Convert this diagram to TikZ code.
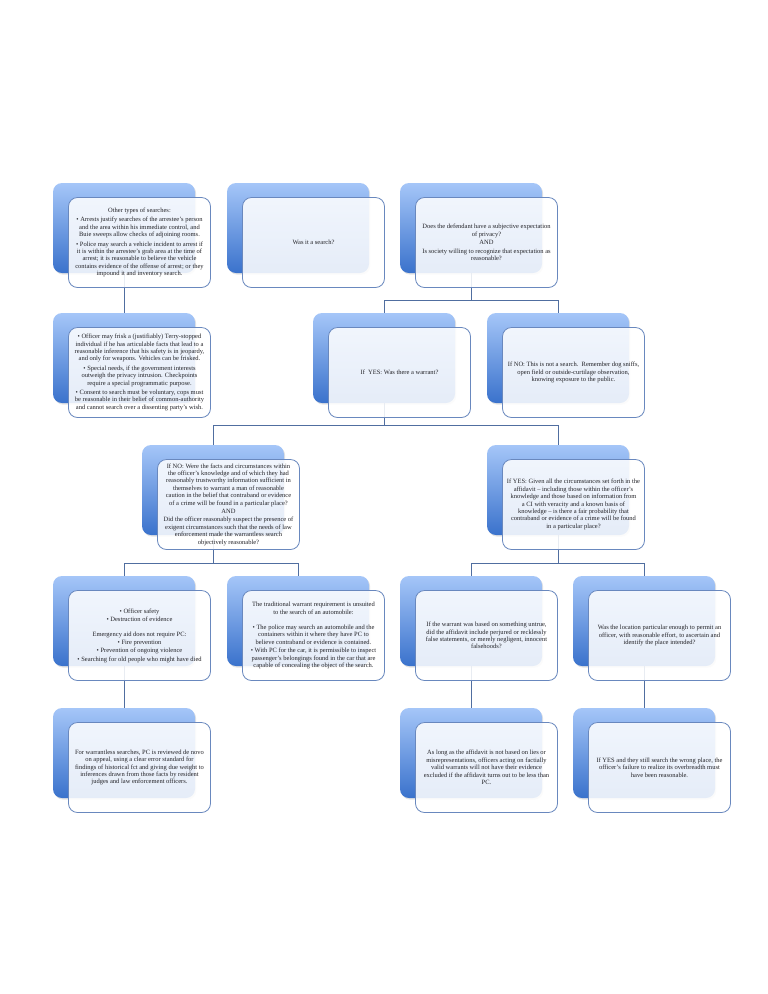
\documentclass[tikz,border=0pt]{standalone}
\usepackage{fontspec}
\setmainfont{Liberation Serif}
\usetikzlibrary{shadows}
\definecolor{boxtop}{RGB}{165,198,248}
\definecolor{boxbot}{RGB}{58,114,204}
\definecolor{frameblue}{RGB}{105,136,190}
\definecolor{linkblue}{RGB}{80,110,160}
\definecolor{txt}{RGB}{35,35,40}
\tikzset{
 backcard/.style={rectangle, rounded corners=9pt, minimum width=142pt, minimum height=90pt, inner sep=0pt,
   top color=boxtop, bottom color=boxbot, draw=none,
   drop shadow={opacity=0.22,shadow xshift=1.2pt,shadow yshift=-1.6pt}},
 frontcard/.style={rectangle, rounded corners=9pt, minimum width=142pt, minimum height=90pt, inner sep=2pt,
   fill=white, fill opacity=0.87, text opacity=1, draw=frameblue, draw opacity=1, line width=0.8pt,
   align=center, text=txt, font=\fontsize{6.5}{7.4}\selectfont},
 link/.style={draw=linkblue, line width=0.8pt},
}
\newcommand\backcardat[3]{\node[backcard] (#1) at ({#2+71},{#3+45}) {};}
\newcommand\frontcardat[4]{\node[frontcard] (#1) at ({#2+86.5},{#3+59.5}) {#4};}
\begin{document}
\begin{tikzpicture}[x=1pt,y=-1pt]
\fill[white] (0,0) rectangle (768,994);
\useasboundingbox (0,0) rectangle (768,994);
% back cards
\backcardat{a1}{53}{183}
\backcardat{b1}{227}{183}
\backcardat{c1}{400}{183}
\backcardat{a2}{53}{313}
\backcardat{yes2}{313}{313}
\backcardat{no2}{487}{313}
\backcardat{no3}{142}{445}
\backcardat{yes3}{487}{445}
\backcardat{a4}{53}{576}
\backcardat{b4}{227}{576}
\backcardat{c4}{400}{576}
\backcardat{d4}{573}{576}
\backcardat{a5}{53}{708}
\backcardat{c5}{400}{708}
\backcardat{d5}{573}{708}
% connectors
\draw[link] (a1.south) -- (a2.north);
\draw[link] (c1.south) -- ++(0,27) -| (yes2.north);
\draw[link] (c1.south) -- ++(0,27) -| (no2.north);
\draw[link] (yes2.south) -- ++(0,22) -| (no3.north);
\draw[link] (yes2.south) -- ++(0,22) -| (yes3.north);
\draw[link] (no3.south) -- ++(0,28) -| (a4.north);
\draw[link] (no3.south) -- ++(0,28) -| (b4.north);
\draw[link] (yes3.south) -- ++(0,28) -| (c4.north);
\draw[link] (yes3.south) -- ++(0,28) -| (d4.north);
\draw[link] (a4.south) -- (a5.north);
\draw[link] (c4.south) -- (c5.north);
\draw[link] (d4.south) -- (d5.north);
% front cards
\frontcardat{a1f}{53}{183}{Other types of searches:\\[2pt]
• Arrests justify searches of the arrestee’s person\\
and the area within his immediate control, and\\
Buie sweeps allow checks of adjoining rooms.\\[2pt]
• Police may search a vehicle incident to arrest if\\
it is within the arrestee’s grab area at the time of\\
arrest; it is reasonable to believe the vehicle\\
contains evidence of the offense of arrest; or they\\
impound it and inventory search.}
\frontcardat{b1f}{227}{183}{Was it a search?}
\frontcardat{c1f}{400}{183}{Does the defendant have a subjective expectation\\
of privacy?\\[1pt]
AND\\[1pt]
Is society willing to recognize that expectation as\\
reasonable?}
\frontcardat{a2f}{53}{313}{• Officer may frisk a (justifiably) Terry-stopped\\
individual if he has articulable facts that lead to a\\
reasonable inference that his safety is in jeopardy,\\
and only for weapons. Vehicles can be frisked.\\[2pt]
• Special needs, if the government interests\\
outweigh the privacy intrusion. Checkpoints\\
require a special programmatic purpose.\\[2pt]
• Consent to search must be voluntary, cops must\\
be reasonable in their belief of common-authority\\
and cannot search over a dissenting party’s wish.}
\frontcardat{yes2f}{313}{313}{If\ \ YES: Was there a warrant?}
\frontcardat{no2f}{487}{313}{If NO: This is not a search.\ \ Remember dog sniffs,\\
open field or outside-curtilage observation,\\
knowing exposure to the public.}
\frontcardat{no3f}{142}{445}{If NO: Were the facts and circumstances within\\
the officer’s knowledge and of which they had\\
reasonably trustworthy information sufficient in\\
themselves to warrant a man of reasonable\\
caution in the belief that contraband or evidence\\
of a crime will be found in a particular place?\\[1pt]
AND\\[1pt]
Did the officer reasonably suspect the presence of\\
exigent circumstances such that the needs of law\\
enforcement made the warrantless search\\
objectively reasonable?}
\frontcardat{yes3f}{487}{445}{If YES: Given all the circumstances set forth in the\\
affidavit – including those within the officer’s\\
knowledge and those based on information from\\
a CI with veracity and a known basis of\\
knowledge – is there a fair probability that\\
contraband or evidence of a crime will be found\\
in a particular place?}
\frontcardat{a4f}{53}{576}{• Officer safety\\[1pt]
• Destruction of evidence\\[8pt]
Emergency aid does not require PC:\\
• Fire prevention\\[1pt]
• Prevention of ongoing violence\\[1pt]
• Searching for old people who might have died}
\frontcardat{b4f}{227}{576}{The traditional warrant requirement is unsuited\\
to the search of an automobile:\\[8pt]
• The police may search an automobile and the\\
containers within it where they have PC to\\
believe contraband or evidence is contained.\\[1pt]
• With PC for the car, it is permissible to inspect\\
passenger’s belongings found in the car that are\\
capable of concealing the object of the search.}
\frontcardat{c4f}{400}{576}{If the warrant was based on something untrue,\\
did the affidavit include perjured or recklessly\\
false statements, or merely negligent, innocent\\
falsehoods?}
\frontcardat{d4f}{573}{576}{Was the location particular enough to permit an\\
officer, with reasonable effort, to ascertain and\\
identify the place intended?}
\frontcardat{a5f}{53}{708}{For warrantless searches, PC is reviewed de novo\\
on appeal, using a clear error standard for\\
findings of historical fct and giving due weight to\\
inferences drawn from those facts by resident\\
judges and law enforcement officers.}
\frontcardat{c5f}{400}{708}{As long as the affidavit is not based on lies or\\
misrepresentations, officers acting on factially\\
valid warrants will not have their evidence\\
excluded if the affidavit turns out to be less than\\
PC.}
\frontcardat{d5f}{573}{708}{If YES and they still search the wrong place, the\\
officer’s failure to realize its overbreadth must\\
have been reasonable.}
\end{tikzpicture}
\end{document}
